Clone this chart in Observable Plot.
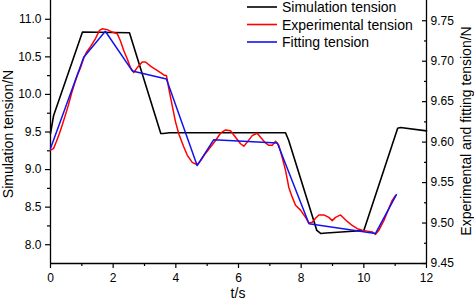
<!DOCTYPE html>
<html>
<head>
<meta charset="utf-8">
<script src="https://cdn.jsdelivr.net/npm/d3@7"></script>
<script src="https://cdn.jsdelivr.net/npm/@observablehq/plot@0.6"></script>
<style>
  body { margin: 0; background: #fff; }
  #chart { width: 474px; height: 302px; }
</style>
</head>
<body>
<div id="chart"></div>
<script>
// Simulation tension (left axis, N)
const simT = [0, 0.1, 1.02, 2.52, 3.52, 3.6, 3.8, 7.5, 7.6, 8.5, 8.62, 8.8, 10.0, 11.08, 11.17, 12];
const simV = [9.48, 9.72, 10.83, 10.82, 9.48, 9.48, 9.49, 9.49, 9.39, 8.19, 8.15, 8.155, 8.19, 9.55, 9.56, 9.515];

// Experimental tension (right axis, N)
const expT = [0, 0.096, 0.192, 0.287, 0.383, 0.479, 0.574, 0.670, 0.766, 0.862, 0.958, 1.063, 1.149, 1.277, 1.436, 1.564, 1.650, 1.810, 1.969, 2.129,
  2.234, 2.340, 2.448, 2.553, 2.659, 2.767, 2.927, 3.032, 3.192, 3.351, 3.511, 3.616, 3.702, 3.776, 3.884, 3.990, 4.095, 4.255, 4.363, 4.523,
  4.682, 4.788, 4.947, 5.107, 5.267, 5.426, 5.586, 5.745, 5.905, 6.064, 6.170, 6.278, 6.438, 6.597, 6.703, 6.862, 6.968, 7.076, 7.182, 7.287,
  7.395, 7.501, 7.606, 7.715, 7.820, 7.980, 8.139, 8.245, 8.353, 8.458, 8.564, 8.723, 8.883, 8.991, 9.097, 9.256, 9.362, 9.470, 9.630, 9.789,
  9.949, 10.108, 10.268, 10.373, 10.478, 10.638, 10.798, 10.906, 11.012];
const expV = [9.590, 9.592, 9.601, 9.611, 9.622, 9.634, 9.646, 9.660, 9.672, 9.683, 9.692, 9.704, 9.711, 9.718, 9.728, 9.738, 9.740, 9.739, 9.736, 9.734,
  9.725, 9.713, 9.703, 9.692, 9.686, 9.692, 9.699, 9.699, 9.694, 9.690, 9.686, 9.683, 9.682, 9.666, 9.645, 9.625, 9.610, 9.594, 9.584, 9.575,
  9.572, 9.577, 9.586, 9.594, 9.602, 9.611, 9.615, 9.614, 9.606, 9.598, 9.595, 9.600, 9.608, 9.611, 9.606, 9.599, 9.596, 9.596, 9.601, 9.596,
  9.581, 9.565, 9.544, 9.532, 9.522, 9.516, 9.507, 9.500, 9.501, 9.506, 9.510, 9.510, 9.507, 9.503, 9.507, 9.510, 9.506, 9.502, 9.497, 9.493,
  9.491, 9.490, 9.489, 9.486, 9.491, 9.503, 9.518, 9.528, 9.534];

// Piecewise-linear fitting tension (right axis, N)
const fitT = [0, 1.06, 1.75, 2.61, 3.70, 4.68, 5.21, 7.24, 8.25, 10.37, 11.04];
const fitV = [9.592, 9.705, 9.737, 9.688, 9.678, 9.571, 9.603, 9.599, 9.499, 9.487, 9.535];

// Tick values
const xTicks = [0, 2, 4, 6, 8, 10, 12];
const xMinor = [1, 3, 5, 7, 9, 11];
const leftTicks = [8.0, 8.5, 9.0, 9.5, 10.0, 10.5, 11.0];
const leftMinor = [8.25, 8.75, 9.25, 9.75, 10.25, 10.75];
const rightTicks = [9.45, 9.50, 9.55, 9.60, 9.65, 9.70, 9.75];
const rightMinor = [9.475, 9.525, 9.575, 9.625, 9.675, 9.725];

const seriesNames = ["Simulation tension", "Experimental tension", "Fitting tension"];
const seriesColors = ["#000000", "#ff0000", "#1212ee"];

// Two y axes sharing one plot: right-axis values are mapped linearly onto the left scale
const leftDomain = [7.75, 11.25];
const rightDomain = [9.45, 9.775];
const k = (leftDomain[1] - leftDomain[0]) / (rightDomain[1] - rightDomain[0]);
const toLeft = v => leftDomain[0] + (v - rightDomain[0]) * k;
const fromLeft = y => rightDomain[0] + (y - leftDomain[0]) / k;

const sim = simT.map((t, i) => ({t, v: simV[i]}));
const exp = expT.map((t, i) => ({t, v: expV[i]}));
const fit = fitT.map((t, i) => ({t, v: fitV[i]}));

const font = 'Arial, "Liberation Sans", sans-serif';
const blank = () => "";

const chart = Plot.plot({
  width: 474,
  height: 302,
  marginLeft: 50,
  marginRight: 48,
  marginTop: 0,
  marginBottom: 39,
  style: {fontFamily: font, fontSize: "12px", background: "#fff", color: "#000", overflow: "visible"},
  x: {domain: [0, 12]},
  y: {domain: leftDomain},
  marks: [
    Plot.axisX(xTicks, {tickSize: 5, tickPadding: 5, label: null, strokeWidth: 1.2}),
    Plot.axisX(xMinor, {tickSize: 3, tickFormat: blank, label: null, strokeWidth: 1.2}),
    Plot.axisY(leftTicks, {tickSize: 5, tickPadding: 4, label: null, tickFormat: d3.format(".1f"), strokeWidth: 1.2}),
    Plot.axisY(leftMinor, {tickSize: 3, tickFormat: blank, label: null, strokeWidth: 1.2}),
    Plot.axisY(rightTicks.map(toLeft), {anchor: "right", tickSize: -5, tickPadding: 9, label: null,
      tickFormat: d => fromLeft(d).toFixed(2), strokeWidth: 1.2}),
    Plot.axisY(rightMinor.map(toLeft), {anchor: "right", tickSize: -3, tickPadding: 9, label: null, tickFormat: blank, strokeWidth: 1.2}),
    Plot.ruleX([0, 12], {stroke: "#000", strokeWidth: 1.3}),
    Plot.ruleY([leftDomain[0]], {stroke: "#000", strokeWidth: 1.3}),
    Plot.line(sim, {x: "t", y: "v", stroke: seriesColors[0], strokeWidth: 1.6}),
    Plot.line(exp, {x: "t", y: d => toLeft(d.v), stroke: seriesColors[1], strokeWidth: 1.5}),
    Plot.line(fit, {x: "t", y: d => toLeft(d.v), stroke: seriesColors[2], strokeWidth: 1.5})
  ]
});

const svg = d3.select(chart);

// Axis titles
svg.append("text")
  .attr("transform", "translate(8,134) rotate(-90)")
  .attr("text-anchor", "middle").attr("dominant-baseline", "central")
  .style("font", `14px ${font}`).attr("fill", "#000")
  .text("Simulation tension/N");
svg.append("text")
  .attr("transform", "translate(466,131) rotate(-90)")
  .attr("text-anchor", "middle").attr("dominant-baseline", "central")
  .style("font", `14px ${font}`).attr("fill", "#000")
  .text("Experimental and fitting tension/N");
svg.append("text")
  .attr("x", 238).attr("y", 293)
  .attr("text-anchor", "middle").attr("dominant-baseline", "central")
  .style("font", `14px ${font}`).attr("fill", "#000")
  .text("t/s");

// Legend in the upper right of the plot area
const legend = svg.append("g").attr("transform", "translate(247,7)");
seriesNames.forEach((name, i) => {
  const row = legend.append("g").attr("transform", `translate(0,${i * 17.5})`);
  row.append("line").attr("x1", 0).attr("x2", 30).attr("y1", 0).attr("y2", 0)
    .attr("stroke", seriesColors[i]).attr("stroke-width", 1.6);
  row.append("text").attr("x", 35).attr("y", 0)
    .attr("text-anchor", "start")
    .attr("dominant-baseline", "central")
    .style("font", `14px ${font}`).attr("fill", "#000")
    .text(name);
});

document.getElementById("chart").appendChild(chart);
</script>
</body>
</html>
